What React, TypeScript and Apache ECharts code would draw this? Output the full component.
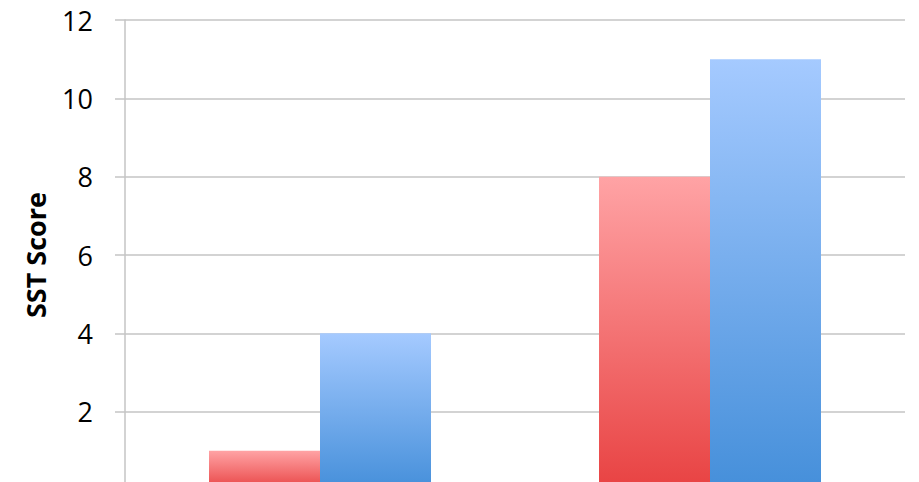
import React, { useEffect, useRef } from 'react';
import * as echarts from 'echarts';

const categories = ['Group A', 'Group B'];
const redValues = [1, 8];
const blueValues = [4, 11];
const yTicks = { min: 0, max: 12, interval: 2 };

const App: React.FC = () => {
  const chartRef = useRef<HTMLDivElement | null>(null);

  useEffect(() => {
    if (!chartRef.current) return;
    const chart = echarts.init(chartRef.current, undefined, { renderer: 'svg' });

    const redFill = new echarts.graphic.LinearGradient(0, 0, 0, 1, [
      { offset: 0, color: '#FFA3A5' },
      { offset: 1, color: '#E84242' },
    ]);
    const blueFill = new echarts.graphic.LinearGradient(0, 0, 0, 1, [
      { offset: 0, color: '#A5CAFF' },
      { offset: 1, color: '#458FDA' },
    ]);

    const option: echarts.EChartsOption = {
      animation: false,
      // the zero line sits just below the picture, as in the original
      grid: {
        left: 125,
        right: 14,
        top: 20,
        height: 470,
        containLabel: false,
        outerBoundsMode: 'none',
      } as any,
      xAxis: {
        type: 'category',
        data: categories,
        axisLine: { show: false },
        axisTick: { show: false },
        axisLabel: { show: false },
      },
      yAxis: {
        type: 'value',
        min: yTicks.min,
        max: yTicks.max,
        interval: yTicks.interval,
        name: 'SST Score',
        nameLocation: 'middle',
        nameGap: 76,
        nameTextStyle: {
          fontFamily: 'Open Sans',
          fontWeight: 'bold',
          fontSize: 27,
          color: '#000',
        },
        axisLine: { show: true, lineStyle: { color: '#C4C4C4', width: 1.5 } },
        axisTick: { show: true, length: 10, lineStyle: { color: '#C4C4C4', width: 1.5 } },
        axisLabel: {
          margin: 32,
          fontFamily: 'Open Sans',
          fontSize: 27,
          color: '#000',
          formatter: (v: number) => (v === 0 ? '' : String(v)),
        },
        splitLine: { show: true, lineStyle: { color: '#C4C4C4', width: 1.5 } },
      },
      series: [
        {
          name: 'Red',
          type: 'bar',
          data: redValues,
          barWidth: 111,
          barGap: '0%',
          itemStyle: { color: redFill },
        },
        {
          name: 'Blue',
          type: 'bar',
          data: blueValues,
          barWidth: 111,
          barGap: '0%',
          itemStyle: { color: blueFill },
        },
      ],
    };

    chart.setOption(option);
    return () => {
      chart.dispose();
    };
  }, []);

  return (
    <div
      ref={chartRef}
      style={{ position: 'fixed', left: 0, top: 0, width: '919px', height: '482px', background: '#fff' }}
    />
  );
};

export default App;
